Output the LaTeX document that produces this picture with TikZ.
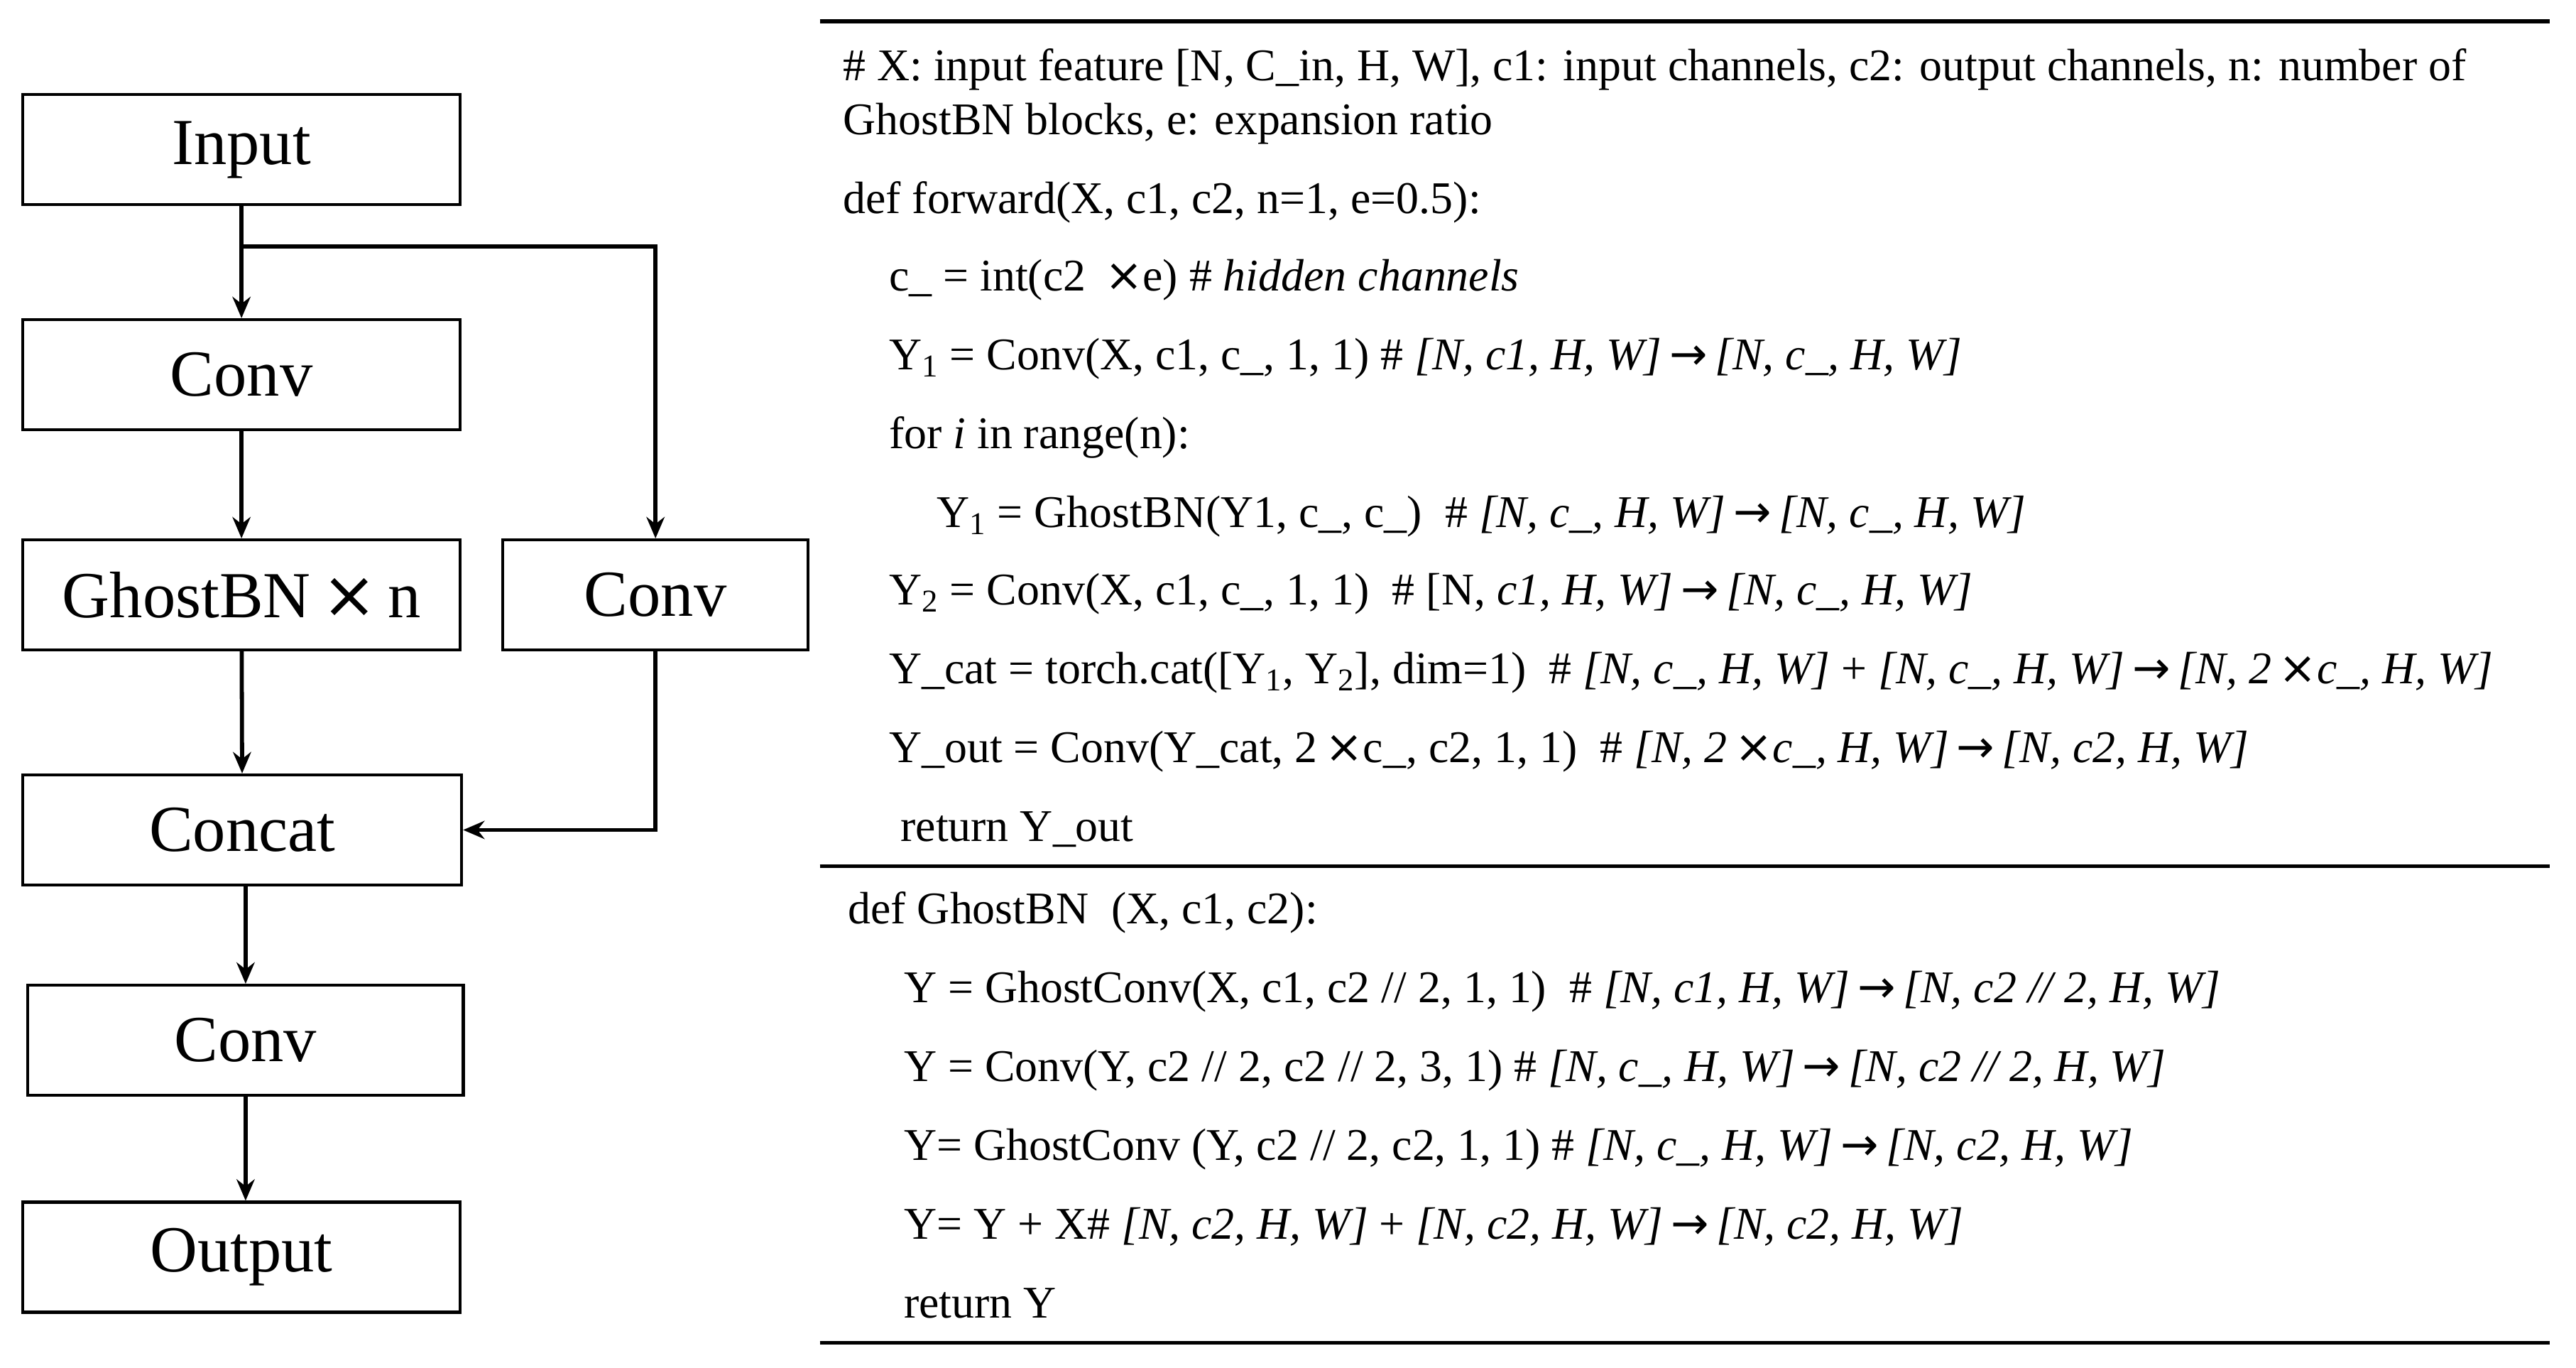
\documentclass[tikz,border=0pt]{standalone}
\usepackage{fontspec}
\setmainfont{Liberation Serif}
\newfontfamily\symf{DejaVu Sans}
\usetikzlibrary{arrows.meta}
\newcommand{\ar}{\,{\symf\char"2192}\,}
\newcommand{\tm}{\,{\symf\char"00D7}}
\begin{document}
\begin{tikzpicture}[x=1pt,y=1pt,
  blk/.style={draw,line width=1.8pt,minimum width=266pt,minimum height=67pt,inner sep=0pt,font=\fontsize{40}{40}\selectfont},
  arr/.style={line width=2.5pt,-{Stealth[length=13pt,width=11pt]}},
  cl/.style={anchor=base west,inner sep=0pt,font=\fontsize{27.6}{28}\selectfont},
  rl/.style={line width=2.4pt}]
\useasboundingbox (0,0) rectangle (1568,-832);
\node[blk] (in) at (147,-91) {Input};
\node[blk] (c1) at (147,-228) {Conv};
\node[blk] (gb) at (147,-362) {GhostBN\,{\symf\char"00D7}\,n};
\node[blk,minimum width=186pt] (cr) at (399,-362) {Conv};
\node[blk,minimum width=267pt] (cat) at (147.5,-505) {Concat};
\node[blk,minimum width=265pt] (c3) at (149.5,-633) {Conv};
\node[blk] (out) at (147,-765) {Output};
\coordinate (br) at (147,-150);
\draw[arr] (in) -- (c1);
\draw[arr] (br) -| (cr.north);
\draw[arr] (c1) -- (gb);
\draw[arr] (gb) -- (cat);
\draw[arr] (cr.south) |- (cat.east);
\draw[arr] ([xshift=2pt]cat.south) -- ([xshift=2pt]cat.south |- c3.north);
\draw[arr] (c3.south) -- (c3.south |- out.north);
\coordinate (t1) at (499,-13); \coordinate (t2) at (1552,-13);
\coordinate (m1) at (499,-527); \coordinate (m2) at (1552,-527);
\coordinate (b1) at (499,-817); \coordinate (b2) at (1552,-817);
\draw[rl] (t1) -- (t2); \draw[rl] (m1) -- (m2); \draw[rl] (b1) -- (b2);
\node[cl] (l1) at (513,-49) {\# X: input feature [N, C\_in, H, W], c1: input channels, c2: output channels, n: number of};
\node[cl] (l2) at (513,-82) {GhostBN blocks, e: expansion ratio};
\node[cl] (l3) at (513,-130) {def forward(X, c1, c2, n=1, e=0.5):};
\node[cl] (l4) at (541,-177) {c\_ = int(c2 \tm e) \# \textit{hidden channels}};
\node[cl] (l5) at (541,-225) {Y\textsubscript{1} = Conv(X, c1, c\_, 1, 1) \# \textit{[N, c1, H, W]}\ar\textit{[N, c\_, H, W]}};
\node[cl] (l6) at (541,-273) {for \textit{i} in range(n):};
\node[cl] (l7) at (570,-321) {Y\textsubscript{1} = GhostBN(Y1, c\_, c\_)\ \ \# \textit{[N, c\_, H, W]}\ar\textit{[N, c\_, H, W]}};
\node[cl] (l8) at (541,-368) {Y\textsubscript{2} = Conv(X, c1, c\_, 1, 1)\ \ \# [N, \textit{c1, H, W]}\ar\textit{[N, c\_, H, W]}};
\node[cl] (l9) at (541,-416) {Y\_cat = torch.cat([Y\textsubscript{1}, Y\textsubscript{2}], dim=1)\ \ \# \textit{[N, c\_, H, W]} + \textit{[N, c\_, H, W]}\ar\textit{[N, 2\tm c\_, H, W]}};
\node[cl] (l10) at (541,-464) {Y\_out = Conv(Y\_cat, 2\tm c\_, c2, 1, 1)\ \ \# \textit{[N, 2\tm c\_, H, W]}\ar\textit{[N, c2, H, W]}};
\node[cl] (l11) at (548,-512) {return Y\_out};
\node[cl] (l12) at (516,-562) {def GhostBN\ \ (X, c1, c2):};
\node[cl] (l13) at (550,-610) {Y = GhostConv(X, c1, c2 // 2, 1, 1)\ \ \# \textit{[N, c1, H, W]}\ar\textit{[N, c2 // 2, H, W]}};
\node[cl] (l14) at (550,-658) {Y = Conv(Y, c2 // 2, c2 // 2, 3, 1) \# \textit{[N, c\_, H, W]}\ar\textit{[N, c2 // 2, H, W]}};
\node[cl] (l15) at (550,-706) {Y= GhostConv (Y, c2 // 2, c2, 1, 1) \# \textit{[N, c\_, H, W]}\ar\textit{[N, c2, H, W]}};
\node[cl] (l16) at (550,-754) {Y= Y + X\# \textit{[N, c2, H, W]} + \textit{[N, c2, H, W]}\ar\textit{[N, c2, H, W]}};
\node[cl] (l17) at (550,-802) {return Y};
\end{tikzpicture}
\end{document}
